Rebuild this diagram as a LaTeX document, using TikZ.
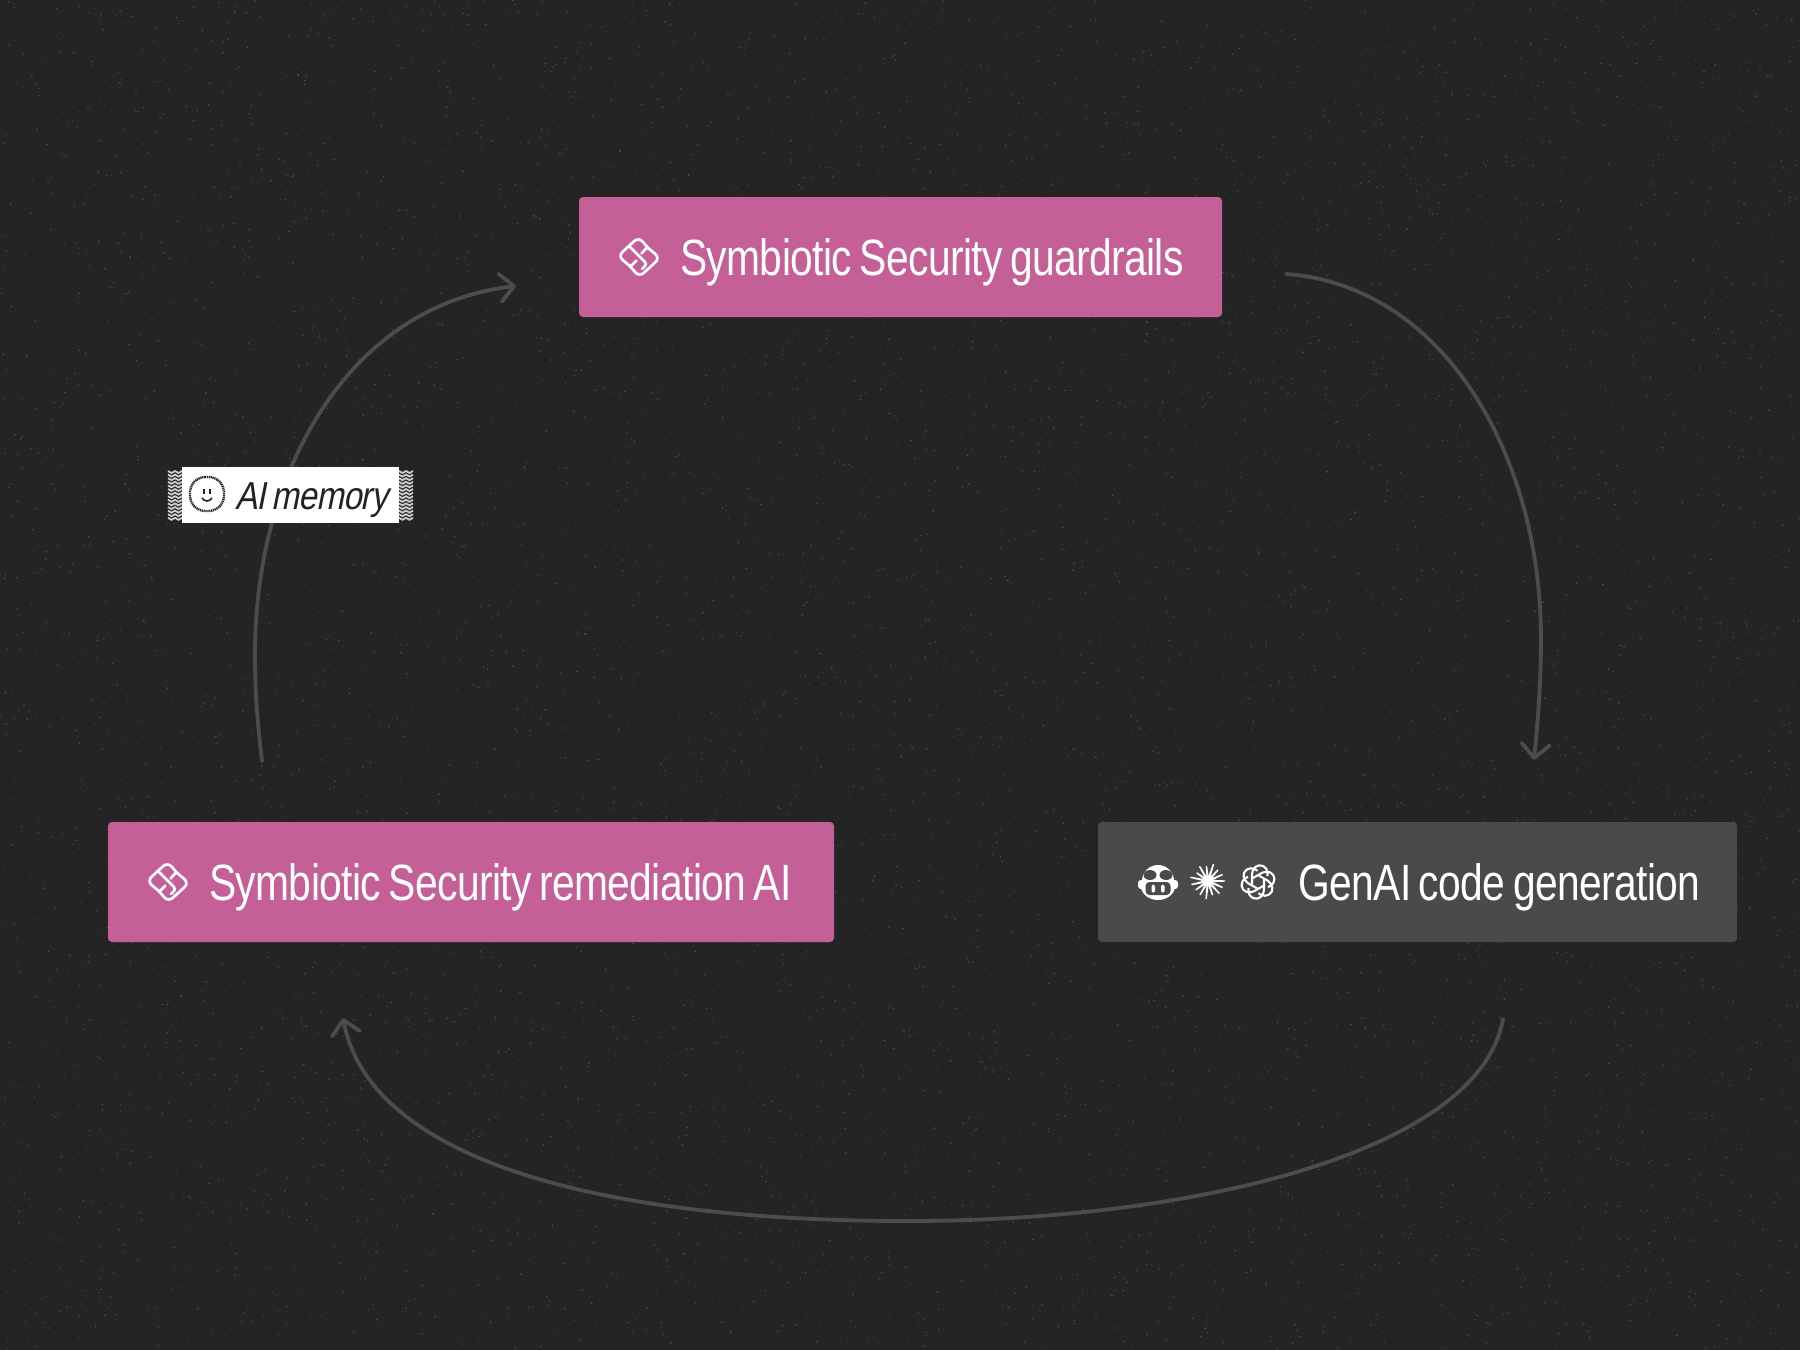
\documentclass[tikz,border=0pt]{standalone}
\usepackage{fontspec}
\usetikzlibrary{arrows.meta}
\newfontfamily\lblfont[FakeStretch=0.8,LetterSpace=-1.2,WordSpace=0.7]{Liberation Sans}
\newfontfamily\memfont[FakeStretch=0.85,FakeSlant=0.2,LetterSpace=-1.5,WordSpace=0.6]{Liberation Sans}
\definecolor{bgc}{HTML}{242424}
\definecolor{pinkc}{HTML}{C55F97}
\definecolor{grayc}{HTML}{4A4A4A}
\definecolor{linec}{HTML}{4C4C4C}
\definecolor{inkc}{HTML}{222222}
\definecolor{noise0}{HTML}{2E2E2E}
\definecolor{noise1}{HTML}{363636}
\definecolor{noise2}{HTML}{404040}
\definecolor{noise3}{HTML}{525252}
\tikzset{
  flowbox/.style={rectangle,rounded corners=4pt,inner sep=0pt,minimum height=120pt,draw=none},
  boxlabel/.style={anchor=base west,inner sep=0pt,text=white,font=\lblfont\fontsize{51}{56}\selectfont},
  flow/.style={draw=linec,line width=3.8pt,line cap=round,-{Straight Barb[length=14pt,width=28pt,round]}},
  icon/.style={draw=white,line width=2.7pt,line cap=round,line join=round},
  symb/.pic={
    \draw[icon,rounded corners=6pt] (10,-8)--(-0.3,-20)--(-21,-1)--(-8,10);
    \draw[icon,rounded corners=6pt] (-10,8)--(0.3,20)--(21,1)--(8,-10);
    \draw[icon,rounded corners=3pt] (-9,-10) -- (8,7) -- (3,12);
    \draw[icon] (-8,9) -- (-2.5,3.5);
    \draw[icon] (2.5,-3.5) -- (8,-9.5);
  },
  copilot/.pic={
    \fill[white] (0,-1) ellipse[x radius=16pt,y radius=16pt];
    \fill[white] (0,4) ellipse[x radius=17pt,y radius=14pt];
    \fill[white,rounded corners=3pt] (-20,-2) rectangle (20,7);
    \fill[grayc] (-8,-7) ellipse[x radius=6.5pt,y radius=5pt];
    \fill[grayc] (8,-7) ellipse[x radius=6.5pt,y radius=5pt];
    \fill[grayc,rounded corners=4pt] (-12.5,0) rectangle (12.5,13);
    \fill[white,rounded corners=1.5pt] (-6.5,2.5) rectangle (-3,10.5);
    \fill[white,rounded corners=1.5pt] (3,2.5) rectangle (6.5,10.5);
  },
  sparkle/.pic={
    \foreach \a/\r in {0/17,24/16,48/15,72/18,96/15,120/17,144/14,168/18,192/17,216/15,240/16,264/18,288/15,312/17,336/16}
      \fill[white,rotate=\a] (0,-1.3) -- (\r,-0.7) -- (\r,0.7) -- (0,1.3) -- cycle;
  },
  knot/.pic={
    \foreach \a in {0,60,...,300}
      \draw[white,line width=2.1pt,rotate=\a,rounded corners=4pt,line join=round] (-6,3.5) -- (-6,-12) -- (1,-18) -- (9.5,-13.5) -- (9.5,-6);
  },
}
\begin{document}
\begin{tikzpicture}[x=1pt,y=-1pt]
\useasboundingbox (0,0) rectangle (1800,1350);
\fill[bgc] (0,0) rectangle (1800,1350);
\pgfmathsetseed{42}
\foreach \lv in {0,1,2,3}{
  \begin{pgfscope}
  \pgfsetfillcolor{noise\lv}
  \foreach \i in {1,...,3000}{
    \pgfmathsetmacro\px{rnd*1800}
    \pgfmathsetmacro\py{-rnd*1350}
    \pgfpathrectangle{\pgfqpoint{\px pt}{\py pt}}{\pgfqpoint{1.2pt}{1.2pt}}
  }
  \pgfusepath{fill}
  \end{pgfscope}
}
% boxes
\node[flowbox,fill=pinkc,minimum width=643pt] (top) at (900.5,257) {};
\node[flowbox,fill=pinkc,minimum width=726pt] (left) at (471,882) {};
\node[flowbox,fill=grayc,minimum width=639pt] (right) at (1417.5,882) {};
% labels
\node[boxlabel] (topt) at (680,275) {Symbiotic Security guardrails};
\node[boxlabel] (leftt) at (209,900) {Symbiotic Security remediation AI};
\node[boxlabel] (rightt) at (1298,900) {GenAI code generation};
% icons
\pic at (639,257) {symb};
\pic at (168,882) {symb};
\pic at (1158,882) {copilot};
\pic at (1208,881) {sparkle};
\pic at (1258,882) {knot};
% connector ends
\coordinate (a1) at (1286,274);
\coordinate (a2) at (1534,760);
\coordinate (b1) at (1503,1019);
\coordinate (b2) at (343,1018);
\coordinate (c1) at (262,761);
\coordinate (c2) at (516,286);
\draw[flow] (a1) .. controls (1440,285) and (1541,450) .. (1541,640) .. controls (1541,680) and (1538,720) .. (a2);
\draw[flow] (b1) .. controls (1480,1150) and (1200,1221) .. (907,1221) .. controls (600,1221) and (370,1160) .. (b2);
\draw[flow] (c1) .. controls (257,720) and (255,690) .. (255,654) .. controls (255,470) and (350,305) .. (c2);
% AI memory
\foreach \sx in {168,399}{
  \foreach \k in {0,...,13}{
    \draw[white!80!black,line width=1.8pt]
      (\sx,471+\k*3.6) -- ++(3.5,2) -- ++(3.5,-2) -- ++(3.5,2) -- ++(3.5,-2);
  }
}
\node[rectangle,fill=white,inner sep=0pt,minimum width=217pt,minimum height=56pt] (memo) at (290.5,495) {};
\node[anchor=base west,inner sep=0pt,text=inkc,font=\memfont\fontsize{39}{44}\selectfont] (memt) at (235,509) {AI memory};
\draw[inkc,line width=2.4pt,dash pattern=on 1.2pt off 0.7pt,rounded corners=6pt] (199,477)--(215,477)--(224,486)--(224,502)--(215,511)--(199,511)--(190,502)--(190,486)--cycle;
\fill[inkc] (203,489) rectangle ++(2,5);
\fill[inkc] (209,489) rectangle ++(2,5);
\draw[inkc,line width=1.6pt] (202,498) .. controls (205,502) and (209,502) .. (212,498);
\end{tikzpicture}
\end{document}
